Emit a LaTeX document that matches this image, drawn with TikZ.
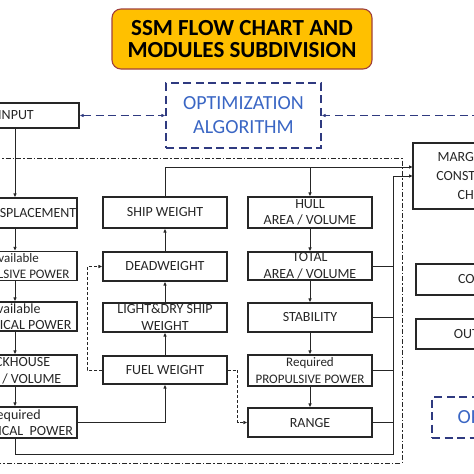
\documentclass[tikz,border=0pt]{standalone}
\usepackage{fontspec}
\setmainfont{Carlito}
\usetikzlibrary{arrows.meta}
\definecolor{titlefill}{HTML}{FFC000}
\definecolor{titledraw}{HTML}{A0413C}
\definecolor{optline}{HTML}{2F3A80}
\definecolor{opttext}{HTML}{3A66C4}
\definecolor{ink}{HTML}{262626}
\begin{document}
\begin{tikzpicture}[x=1pt,y=-1pt,
  box/.style={draw=ink, line width=1.2pt, rectangle, inner sep=0pt, minimum width=124pt},
  lbl/.style={align=center, inner sep=0pt, text=ink, font=\fontsize{14}{16.5}\selectfont},
  lbls/.style={lbl, font=\fontsize{13}{16.5}\selectfont},
  conn/.style={draw=ink, line width=0.9pt},
  arr/.style={conn, -{Latex[length=4pt,width=3.6pt]}},
  dsh/.style={dash pattern=on 3pt off 2pt},
  dashdot/.style={draw=ink, line width=0.9pt, dash pattern=on 5pt off 2pt on 1.5pt off 2pt},
  optbox/.style={draw=optline, line width=1.2pt, dash pattern=on 8pt off 4.5pt, rectangle, inner sep=0pt},
  optarr/.style={draw=optline, line width=1.3pt, dash pattern=on 8pt off 4.5pt},
  opttxt/.style={align=center, inner sep=0pt, text=opttext, font=\fontsize{20}{24}\selectfont},
]
\useasboundingbox (0,0) rectangle (474,474);
\clip (0,0) rectangle (474,474);

% title
\node[draw=titledraw, fill=titlefill, line width=1.1pt, rounded corners=9pt,
      minimum width=260pt, minimum height=60pt, inner sep=0pt,
      label={[align=center, inner sep=0pt, font=\fontsize{23}{22.5}\bfseries\selectfont]center:{SSM FLOW CHART AND\\MODULES SUBDIVISION}}]
      (title) at (242,39) {};

% optimization
\node[optbox, minimum width=155pt, minimum height=65pt,
      label={[opttxt]center:{OPTIMIZATION\\ALGORITHM}}] (opt) at (243.5,115.5) {};

% input
\node[box, minimum width=126pt, minimum height=25pt, label={[lbl]center:INPUT}] (inp) at (16,115.5) {};

% left column
\node[box, minimum height=30pt] (disp) at (15,213) {};
\node[lbl, anchor=east] (disptxt) at (76.5,213) {DISPLACEMENT};
\node[box, minimum height=29pt, label={[lbls]center:{Available\\PROPULSIVE POWER}}] (aprop) at (15,266) {};
\node[box, minimum height=29pt, label={[lbl]center:{Available\\ELECTRICAL POWER}}] (aelec) at (15,316.5) {};
\node[box, minimum height=31pt, label={[lbl]center:{DECKHOUSE\\AREA / VOLUME}}] (deck) at (15,370.5) {};
\node[box, minimum height=31pt, label={[lbl]center:{Required\\ELECTRICAL\ \ POWER}}] (relec) at (15,422.5) {};

% middle column
\node[box, minimum height=31pt, label={[lbl]center:SHIP WEIGHT}] (ship) at (165,212.5) {};
\node[box, minimum height=29pt, label={[lbl]center:DEADWEIGHT}] (dead) at (165,266.5) {};
\node[box, minimum height=29pt, label={[lbl]center:{LIGHT\&DRY SHIP\\WEIGHT}}] (light) at (165,317.5) {};
\node[box, minimum height=28pt, label={[lbl]center:FUEL WEIGHT}] (fuel) at (165,370) {};

% right-middle column
\node[box, minimum height=31pt, label={[lbl]center:{HULL\\AREA / VOLUME}}] (hull) at (310,212.5) {};
\node[box, minimum height=28pt, label={[lbl]center:{TOTAL\\AREA / VOLUME}}] (total) at (310,266) {};
\node[box, minimum height=29pt, label={[lbl]center:STABILITY}] (stab) at (310,317.5) {};
\node[box, minimum height=31pt, label={[lbls]center:{Required\\PROPULSIVE POWER}}] (rprop) at (310,370.5) {};
\node[box, minimum height=29pt, label={[lbl]center:RANGE}] (range) at (310,422.5) {};

% right column
\node[box, minimum width=127pt, minimum height=66pt,
      label={[lbl, font=\fontsize{14}{19}\selectfont]center:{MARGIN AND\\CONSTRAINTS\\CHECK}}] (marg) at (476.5,176) {};
\node[box, minimum width=114pt, minimum height=31pt, label={[lbl]center:COST}] (cost) at (473,279.5) {};
\node[box, minimum width=124pt, minimum height=30pt, label={[lbl]center:OUTPUT}] (outp) at (478,334) {};
\node[optbox, minimum width=172pt, minimum height=41pt, label={[opttxt]center:OPTIMIZATION}] (opt2) at (518,417.5) {};

% named free ends
\coordinate (mtop) at (413,167);
\coordinate (mbot) at (413,176);
\coordinate (busb) at (393,454);
\coordinate (bust) at (393,176);
\coordinate (rend) at (480,115.5);

% dash-dot module frame
\draw[dashdot] (-5,158) -- (402,158) -- (402,463) -- (-5,463);

% optimization links
\draw[optarr, {Latex[length=4pt,width=3.6pt]}-{Latex[length=4pt,width=3.6pt]}] (inp.east) -- (opt.west);
\draw[optarr, -{Latex[length=4pt,width=3.6pt]}] (rend) -- (opt.east);

% left column flow
\draw[arr] (inp.south -| disp.north) -- (disp.north);
\draw[arr] (disp.south) -- (aprop.north);
\draw[arr] (aprop.south) -- (aelec.north);
\draw[arr] (aelec.south) -- (deck.north);
\draw[arr] (deck.south) -- (relec.north);
\draw[arr] (relec.east) -| (fuel.south);
\draw[arr] (relec.south) -- (relec.south |- busb) -- (busb) -- (bust) -- (mbot);

% weights
\draw[arr] (fuel.north) -- (light.south);
\draw[arr] (light.north) -- (dead.south);
\draw[arr] (dead.north) -- (ship.south);
\draw[arr] (ship.north) |- (mtop);
\draw[arr] (hull.north |- mtop) -- (hull.north);

% dashed fuel links
\draw[arr, dsh] (fuel.west) -- ++(-15,0) |- (dead.west);
\draw[arr, dsh] (fuel.east) -- ++(10,0) |- (range.west);

% right-middle flow
\draw[arr] (hull.south) -- (total.north);
\draw[arr] (total.south) -- (stab.north);
\draw[arr] (stab.south) -- (rprop.north);
\draw[arr] (rprop.south) -- (range.north);
\draw[conn] (total.east) -- (total.east -| busb);
\draw[conn] (stab.east) -- (stab.east -| busb);
\draw[conn] (rprop.east) -- (rprop.east -| busb);
\draw[conn] (range.east) -- (range.east -| busb);
\end{tikzpicture}
\end{document}
